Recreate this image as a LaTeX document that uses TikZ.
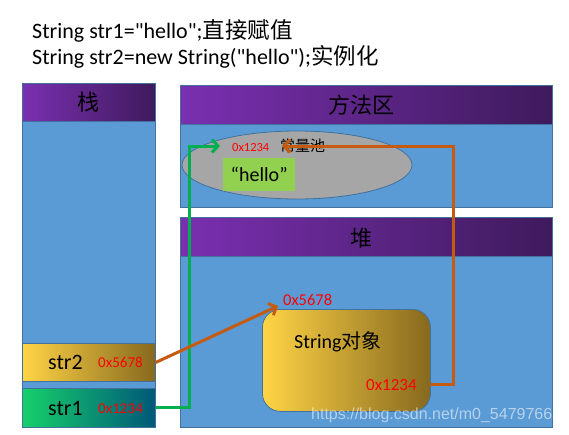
\documentclass[tikz,border=0pt]{standalone}
\usepackage{fontspec}
\setmainfont{Carlito}[Ligatures=TeXOff]
\newfontfamily\cjk{Noto Sans CJK SC}
\newfontfamily\wm{Liberation Sans}
\usetikzlibrary{arrows.meta,shapes.geometric}
\definecolor{hdrL}{HTML}{7A30B0}
\definecolor{hdrR}{HTML}{3E1A5C}
\definecolor{bodyB}{HTML}{5B9BD5}
\definecolor{edgeB}{HTML}{41719C}
\definecolor{yelL}{HTML}{FFD446}
\definecolor{yelR}{HTML}{86691E}
\definecolor{grnL}{HTML}{16D06A}
\definecolor{grnR}{HTML}{005878}
\definecolor{arrG}{HTML}{00B050}
\definecolor{arrO}{HTML}{C55A11}
\definecolor{helloG}{HTML}{92D050}
\definecolor{poolG}{HTML}{A6A6A6}
\definecolor{addrR}{HTML}{FF0000}
\tikzset{
  hdr/.style={draw=edgeB, line width=0.8pt, left color=hdrL, right color=hdrR, shading angle=90},
  bodybox/.style={draw=edgeB, line width=0.8pt, fill=bodyB},
  hdrtext/.style={font=\cjk\fontsize{22}{24}\selectfont, text=black},
  yelbox/.style={draw=edgeB, line width=0.8pt, left color=yelL, right color=yelR},
  grnbox/.style={draw=edgeB, line width=0.8pt, left color=grnL, right color=grnR},
  addr/.style={text=addrR, inner sep=0pt},
  garrow/.style={draw=arrG, line width=3pt, -{Straight Barb[length=6pt,width=13pt]}},
  oarrow/.style={draw=arrO, line width=3pt, -{Straight Barb[length=6pt,width=13pt]}},
  title/.style={anchor=base west, inner sep=0pt, font=\fontsize{22}{24}\selectfont}
}
\begin{document}
\begin{tikzpicture}[x=1pt,y=-1pt]
\useasboundingbox (0,0) rectangle (569,434);
\fill[white] (0,0) rectangle (569,434);
% titles
\node[title] (t1) at (32,38) {String str1="hello";{\cjk\fontsize{22.5}{24}\selectfont 直接赋值}};
\node[title] (t2) at (32,64) {String str2=new String("hello");{\cjk\fontsize{22.5}{24}\selectfont 实例化}};
% stack
\draw[bodybox] (22,121) rectangle (155,427);
\draw[hdr] (22,83) rectangle (155,121);
\node[hdrtext] (stk) at (88.5,102) {栈};
\node[yelbox, minimum width=133pt, minimum height=38pt, inner sep=0pt, anchor=north west] (str2) at (22,343) {};
\node[grnbox, minimum width=133pt, minimum height=39pt, inner sep=0pt, anchor=north west] (str1) at (22,388) {};
\node[anchor=base west, inner sep=0pt, font=\fontsize{22}{24}\selectfont] (s2t) at (48,369) {str2};
\node[anchor=base west, inner sep=0pt, font=\fontsize{22}{24}\selectfont] (s1t) at (48,415) {str1};
\node[addr, anchor=base west, font=\fontsize{15}{16}\selectfont] (a2) at (98,367) {0x5678};
\node[addr, anchor=base west, font=\fontsize{15}{16}\selectfont] (a1) at (98,413) {0x1234};
% method area
\draw[bodybox] (180,124) rectangle (552,207);
\draw[hdr] (180,85) rectangle (552,124);
\node[hdrtext] (ma) at (361,105) {方法区};
\node[ellipse, draw=edgeB, line width=0.8pt, fill=poolG, minimum width=230pt, minimum height=68pt, inner sep=0pt] (pool) at (297,165) {};
\node[fill=helloG, minimum width=72pt, minimum height=33pt, inner sep=0pt, anchor=north west] (hello) at (223,158) {};
\node[font=\fontsize{20}{22}\selectfont, inner sep=0pt] (hellot) at (hello.center) {“hello”};
\node[addr, anchor=base west, font=\fontsize{12.5}{14}\selectfont] (pa) at (232,151) {0x1234};
\node[anchor=base west, inner sep=0pt, font=\cjk\fontsize{15}{16}\selectfont] (pt) at (280,151) {常量池};
% heap
\draw[bodybox] (180,256) rectangle (552,427);
\draw[hdr] (180,217) rectangle (552,256);
\node[hdrtext] (hp) at (361,238) {堆};
\node[yelbox, rounded corners=18pt, minimum width=168pt, minimum height=102pt, inner sep=0pt, anchor=north west] (obj) at (262,309) {};
\node[anchor=base west, inner sep=0pt, font=\fontsize{20}{22}\selectfont] (objt) at (294,348) {String{\cjk\fontsize{20}{22}\selectfont 对象}};
\node[addr, anchor=base west, font=\fontsize{17}{18}\selectfont] (oa) at (366,390) {0x1234};
\node[addr, anchor=base west, font=\fontsize{16.5}{18}\selectfont] (ha) at (283,305) {0x5678};
% watermark
\node[anchor=base west, inner sep=0pt, text=white, opacity=0.55, font=\wm\fontsize{16}{18}\selectfont] (wmk) at (311,419) {https://blog.csdn.net/m0\_54797663};
% connectors
\coordinate (gtip) at (220,146);
\coordinate (gturn) at (189,146);
\coordinate (otip) at (282,146);
\coordinate (oturn) at (453,146);
\coordinate (otip2) at (278,306);
\coordinate (ostart) at (430,384);
\draw[garrow] (str1.east) -| (gturn) -- (gtip);
\draw[oarrow] (ostart) -| (oturn) -- (otip);
\draw[oarrow] (str2.east) -- (otip2);
\end{tikzpicture}
\end{document}
